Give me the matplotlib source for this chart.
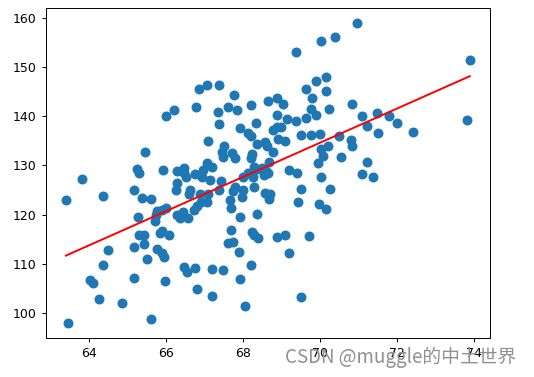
import numpy as np
import matplotlib.pyplot as plt

# height (in) and weight (lb) samples
height = [
    66.86, 67.06, 66.78, 65.99, 66.20, 67.38, 67.78, 67.62, 67.84, 67.35,
    68.20, 68.65, 68.88, 69.04, 68.88, 69.14, 69.38, 69.65, 69.64, 69.90,
    70.17, 70.17, 69.81, 69.78, 69.91, 70.23, 70.83, 71.11, 71.49, 71.80,
    70.97, 70.04, 70.39, 69.39, 73.90, 73.83,
    64.49, 64.36, 64.03, 64.10, 64.27, 64.85, 63.46, 65.17, 65.44, 65.31,
    65.44, 65.76, 65.89, 65.96, 65.84, 65.90, 66.09, 65.50, 65.17, 65.97,
    65.60, 66.48, 66.54, 66.76, 67.20, 67.49, 66.80, 67.20, 67.62, 67.75,
    67.69, 65.71, 68.24, 68.29, 68.40, 68.88, 69.09, 69.71, 67.90, 69.20,
    68.20, 67.92, 69.50, 68.06,
    63.83, 63.40, 64.37,
    67.38, 67.10, 65.45, 65.24, 65.29, 65.93, 66.28, 66.47, 66.47, 66.52,
    66.75, 67.07, 67.20, 66.97, 66.95, 67.14, 66.30, 66.26, 65.17, 65.37,
    65.62, 66.62, 66.59, 66.88, 67.10, 67.37, 65.27,
    66.28, 66.36, 66.45, 66.58, 66.73, 66.81, 66.90, 67.07,
    65.77, 65.90, 65.99, 65.75,
    67.92, 68.14, 68.21, 68.34, 68.79, 68.89, 68.99, 68.92, 69.09, 69.51,
    69.76, 70.00, 70.49, 70.22, 70.04, 70.09, 69.96, 70.03, 70.26, 69.52,
    69.44, 69.97, 70.16, 69.20, 69.42, 67.51, 67.45, 67.48, 67.73, 67.79,
    68.37, 68.57, 68.62, 68.24, 68.20, 68.79, 68.68, 68.29, 68.37, 68.49,
    68.60, 68.66, 68.01, 68.27, 68.14, 68.55, 67.42, 67.79, 67.75, 68.01,
    67.99, 68.29, 68.57, 68.70, 68.68, 67.66, 67.68, 67.92, 68.36,
    70.81, 70.83, 70.55, 71.22, 71.09, 71.39, 71.23, 71.51, 72.02, 72.43,
]
weight = [
    145.6, 146.4, 141.8, 140.1, 141.3, 146.3, 144.3, 141.8, 141.3, 140.9,
    142.3, 143.1, 143.6, 142.5, 140.3, 139.4, 139.0, 139.7, 145.6, 147.1,
    148.0, 145.1, 143.6, 141.4, 140.3, 141.4, 142.5, 140.0, 140.7, 140.1,
    159.0, 155.3, 156.0, 153.0, 151.3, 139.3,
    112.9, 109.8, 106.8, 106.1, 102.9, 102.1, 98.0, 113.5, 114.0, 115.9,
    115.9, 113.1, 112.3, 111.4, 116.2, 116.7, 115.8, 110.9, 107.1, 106.5,
    98.8, 109.4, 108.4, 109.2, 109.0, 108.8, 104.9, 103.4, 114.2, 114.5,
    116.9, 118.7, 116.5, 115.9, 115.2, 115.5, 115.8, 115.7, 112.4, 112.2,
    109.7, 106.9, 103.2, 101.5,
    127.2, 123.0, 123.8,
    138.5, 135.0, 132.8, 129.2, 128.4, 129.1, 128.9, 129.5, 128.4, 127.7,
    128.2, 130.4, 129.7, 129.1, 127.6, 127.0, 126.5, 124.9, 124.9, 123.4,
    123.2, 125.0, 124.2, 124.2, 124.2, 124.9, 119.5,
    120.0, 119.3, 120.6, 119.3, 120.9, 121.8, 122.6, 122.6,
    120.7, 121.0, 121.4, 120.0,
    137.5, 136.5, 135.9, 138.6, 137.2, 137.7, 137.7, 135.3, 135.0, 136.1,
    136.1, 136.3, 135.9, 134.0, 133.4, 131.9, 130.4, 127.6, 125.3, 125.3,
    122.6, 122.1, 121.1, 129.1, 128.4, 133.9, 132.8, 131.8, 132.6, 131.4,
    134.3, 134.8, 133.9, 132.4, 131.4, 132.8, 130.7, 129.7, 129.2, 129.4,
    128.9, 128.4, 127.7, 127.7, 128.4, 128.0, 126.8, 125.7, 124.7, 125.0,
    123.6, 125.7, 124.4, 124.2, 123.2, 123.0, 121.3, 119.5, 120.1,
    135.2, 134.0, 131.7, 130.7, 128.2, 127.7, 138.0, 136.5, 138.6, 136.7,
]

x = np.array(height)
y = np.array(weight)

# least squares fit
slope, intercept = np.polyfit(x, y, 1)
x_line = np.array([x.min(), x.max()])

fig = plt.figure(figsize=(5.34, 3.77), dpi=100)
ax = fig.add_axes([0.0856, 0.1034, 0.832, 0.8767])
ax.scatter(x, y, s=38, color='#1f77b4')
ax.plot(x_line, slope * x_line + intercept, color='red', linewidth=1.4)

ax.set_xticks([64, 66, 68, 70, 72, 74])
ax.set_yticks([100, 110, 120, 130, 140, 150, 160])
ax.tick_params(labelsize=9, length=3.2, width=0.7)
for s in ax.spines.values():
    s.set_linewidth(0.7)

# site watermark
fig.text(0.534, 0.053, 'CSDN @muggle的中土世界', fontsize=13.5, color='#909090',
         family=['Noto Sans CJK SC', 'DejaVu Sans'], va='center', ha='left')

fig.savefig('out.png', dpi=100)
